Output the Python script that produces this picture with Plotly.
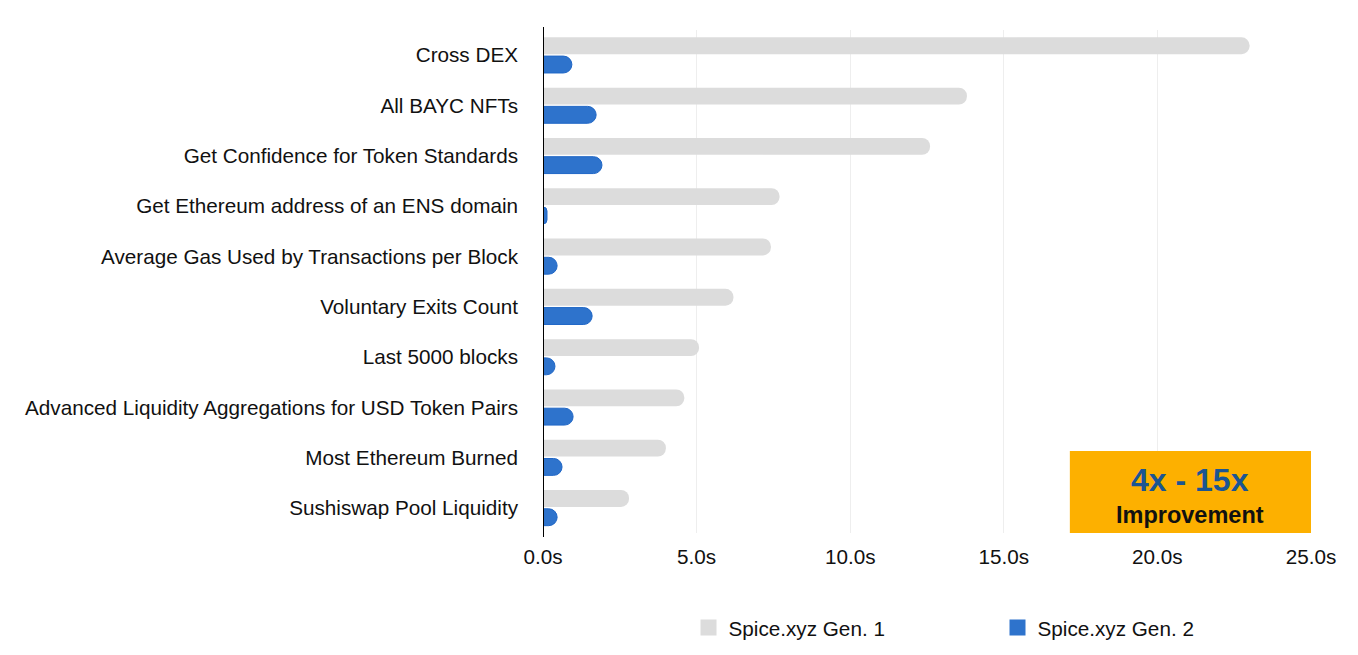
import plotly.graph_objects as go

categories = [
    "Cross DEX",
    "All BAYC NFTs",
    "Get Confidence for Token Standards",
    "Get Ethereum address of an ENS domain",
    "Average Gas Used by Transactions per Block",
    "Voluntary Exits Count",
    "Last 5000 blocks",
    "Advanced Liquidity Aggregations for USD Token Pairs",
    "Most Ethereum Burned",
    "Sushiswap Pool Liquidity",
]
gen1 = [23.0, 13.8, 12.6, 7.7, 7.42, 6.2, 5.08, 4.6, 4.0, 2.8]
gen2 = [0.94, 1.73, 1.92, 0.13, 0.46, 1.6, 0.39, 0.98, 0.62, 0.46]
tick_vals = [0, 5, 10, 15, 20, 25]
tick_text = ["0.0s", "5.0s", "10.0s", "15.0s", "20.0s", "25.0s"]

GRAY = "#DCDCDC"
BLUE = "#2E73CC"
FONT = "Liberation Sans, Arial, sans-serif"
FS = 20.7

fig = go.Figure()
fig.add_trace(go.Bar(y=categories, x=gen1, orientation="h", name="Spice.xyz Gen. 1",
                     marker=dict(color=GRAY, line=dict(width=0)), showlegend=False))
fig.add_trace(go.Bar(y=categories, x=gen2, orientation="h", name="Spice.xyz Gen. 2",
                     marker=dict(color=BLUE, line=dict(color="#1F66C6", width=1)), showlegend=False))
# legend proxies
fig.add_trace(go.Scatter(x=[None], y=[None], mode="markers", name="Spice.xyz Gen. 1",
                         marker=dict(symbol="square", size=19, color=GRAY)))
fig.add_trace(go.Scatter(x=[None], y=[None], mode="markers", name="Spice.xyz Gen. 2",
                         marker=dict(symbol="square", size=19, color=BLUE)))

# zero axis line
fig.add_shape(type="line", xref="x", yref="paper", x0=0, x1=0, y0=-0.008, y1=1.006,
              line=dict(color="black", width=2), layer="above")
# improvement box
fig.add_shape(type="rect", xref="x", yref="paper", x0=17.15, x1=25, y0=0, y1=0.163,
              fillcolor="#FDB000", line=dict(width=0), layer="above")
fig.add_annotation(xref="x", yref="paper", x=21.05, y=0.105, yanchor="middle",
                   text="<b>4x - 15x</b>", showarrow=False,
                   font=dict(family=FONT, size=32, color="#1B5592"))
fig.add_annotation(xref="x", yref="paper", x=21.05, y=0.036, yanchor="middle",
                   text="<b>Improvement</b>", showarrow=False,
                   font=dict(family=FONT, size=23.5, color="#111111"))

fig.update_layout(
    width=1358, height=655,
    margin=dict(l=543, r=47, t=30, b=122, autoexpand=False),
    paper_bgcolor="white", plot_bgcolor="white",
    barmode="group", bargap=0.254, bargroupgap=0.1,
    barcornerradius=9,
    font=dict(family=FONT, size=FS, color="#111111"),
    xaxis=dict(range=[0, 25], tickvals=tick_vals, ticktext=tick_text,
               showgrid=True, gridcolor="#EEEEEE", gridwidth=1,
               zeroline=False, showline=False, ticks="", ticklabelstandoff=9,
               tickfont=dict(size=FS)),
    yaxis=dict(autorange="reversed", showgrid=False, ticks="", ticklabelstandoff=24,
               showline=False, tickfont=dict(size=FS)),
    legend=dict(orientation="h", x=0.507, y=0.042, xref="container", yref="container",
                xanchor="left", yanchor="middle", entrywidth=264, entrywidthmode="pixels",
                font=dict(size=FS), itemsizing="trace"),
)

fig.write_html("out.html")
